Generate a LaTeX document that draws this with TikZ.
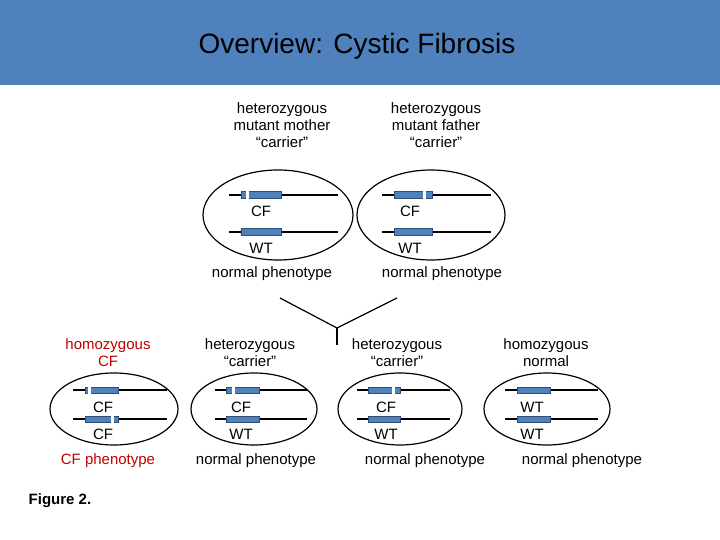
\documentclass[tikz,border=0pt]{standalone}
\usepackage{fontspec}
\setmainfont{Liberation Sans}
\usetikzlibrary{shapes.geometric}
\definecolor{hdr}{HTML}{4F81BD}
\definecolor{gene}{HTML}{4F81BD}
\definecolor{redt}{HTML}{C00000}
\begin{document}
\begin{tikzpicture}[x=1pt,y=-1pt,
  lbl/.style={font=\fontsize{15}{17}\selectfont,align=center,inner sep=0pt},
  cell/.style={draw,line width=1.2pt},
  chrom/.style={line width=2.2pt},
  genebox/.style={fill=gene,draw=gene!60!black,line width=0.4pt},
  gap/.style={fill=white,draw=none}]
\useasboundingbox (0,0) rectangle (720,540);
\fill[white] (0,0) rectangle (720,540);
\fill[hdr] (0,0) rectangle (720,85);
\node[font=\fontsize{28}{32}\selectfont] (title) at (357,46) {Overview: Cystic Fibrosis};
% parents
\node[lbl] (mlab) at (282,125) {heterozygous\\mutant mother\\“carrier”};
\node[lbl] (flab) at (436,125) {heterozygous\\mutant father\\“carrier”};
\node[cell,ellipse,minimum width=150,minimum height=90] (mo) at (278,215) {};
\node[cell,ellipse,minimum width=148,minimum height=90] (fa) at (431,215) {};
% mother chromosomes
\draw[chrom] (229,195) -- (338,195); \filldraw[genebox] (241,191.5) rectangle (281,198.5); \fill[gap] (246,190) rectangle (249,200);
\draw[chrom] (229,232) -- (338,232); \filldraw[genebox] (241,228.5) rectangle (281,235.5);
\node[lbl] (m1) at (261,211) {CF}; \node[lbl] (m2) at (261,248) {WT};
% father
\draw[chrom] (382,195) -- (491,195); \filldraw[genebox] (394,191.5) rectangle (432,198.5); \fill[gap] (423,190) rectangle (426,200);
\draw[chrom] (382,232) -- (491,232); \filldraw[genebox] (394,228.5) rectangle (432,235.5);
\node[lbl] (f1) at (410,211) {CF}; \node[lbl] (f2) at (410,248) {WT};
\node[lbl] (mp) at (272,274) {normal phenotype};
\node[lbl] (fp) at (442,274) {normal phenotype};
% cross
\coordinate (ya) at (280,298); \coordinate (yb) at (397,298); \coordinate (yc) at (337,328); \coordinate (yd) at (337,345);
\draw[line width=1.2pt] (ya) -- (yc) -- (yb); \draw[line width=1.2pt] (yc) -- (yd);
% offspring labels
\node[lbl,text=redt] (o1) at (108,353) {homozygous\\CF};
\node[lbl] (o2) at (250,353) {heterozygous\\“carrier”};
\node[lbl] (o3) at (397,353) {heterozygous\\“carrier”};
\node[lbl] (o4) at (546,353) {homozygous\\normal};
% offspring cells
\node[cell,ellipse,minimum width=128,minimum height=72] (c1) at (114,409) {};
\node[cell,ellipse,minimum width=126,minimum height=72] (c2) at (254,409) {};
\node[cell,ellipse,minimum width=124,minimum height=72] (c3) at (400,409) {};
\node[cell,ellipse,minimum width=126,minimum height=72] (c4) at (547,409) {};
% c1
\draw[chrom] (73,390) -- (167,390); \filldraw[genebox] (85,387) rectangle (118,393); \fill[gap] (88,386) rectangle (91,394);
\draw[chrom] (73,419) -- (167,419); \filldraw[genebox] (85,416) rectangle (118,422); \fill[gap] (111,415) rectangle (114,423);
\node[lbl] (c1a) at (103,407) {CF}; \node[lbl] (c1b) at (103,434) {CF};
% c2
\draw[chrom] (215,390) -- (307,390); \filldraw[genebox] (226,387) rectangle (259,393); \fill[gap] (232,386) rectangle (235,394);
\draw[chrom] (215,419) -- (307,419); \filldraw[genebox] (226,416) rectangle (259,422);
\node[lbl] (c2a) at (241,407) {CF}; \node[lbl] (c2b) at (241,434) {WT};
% c3
\draw[chrom] (357,390) -- (450,390); \filldraw[genebox] (368,387) rectangle (400,393); \fill[gap] (392,386) rectangle (395,394);
\draw[chrom] (357,419) -- (450,419); \filldraw[genebox] (368,416) rectangle (400,422);
\node[lbl] (c3a) at (386,407) {CF}; \node[lbl] (c3b) at (386,434) {WT};
% c4
\draw[chrom] (505,390) -- (598,390); \filldraw[genebox] (517,387) rectangle (550,393);
\draw[chrom] (505,419) -- (598,419); \filldraw[genebox] (517,416) rectangle (550,422);
\node[lbl] (c4a) at (532,407) {WT}; \node[lbl] (c4b) at (532,434) {WT};
% phenotypes
\node[lbl,text=redt] (p1) at (108,461) {CF phenotype};
\node[lbl] (p2) at (256,461) {normal phenotype};
\node[lbl] (p3) at (425,461) {normal phenotype};
\node[lbl] (p4) at (582,461) {normal phenotype};
\node[lbl,font=\bfseries\fontsize{15}{17}\selectfont] (fig) at (60,501) {Figure 2.};
\end{tikzpicture}
\end{document}
